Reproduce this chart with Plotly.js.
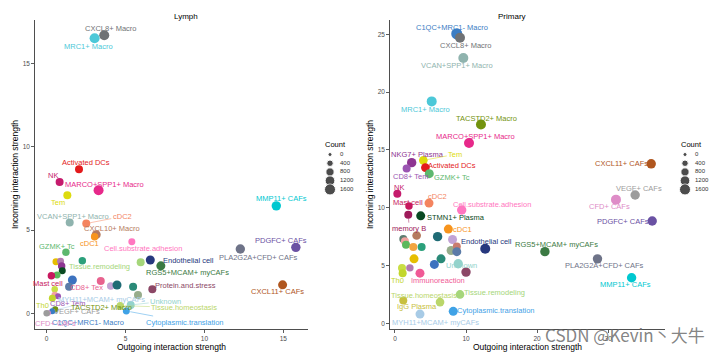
<!DOCTYPE html>
<html><head><meta charset="utf-8">
<script src="https://cdn.plot.ly/plotly-3.0.1.min.js"></script>
<style>html,body{margin:0;padding:0;background:#fff}#chart{width:721px;height:355px}</style>
</head><body><div id="chart"></div>
<script>
// ---------------- data ----------------
const lymphNames = ["CXCL8+ Macro","MRC1+ Macro","Activated DCs","NK","MARCO+SPP1+ Macro","Tem","VCAN+SPP1+ Macro","cDC2","CXCL10+ Macro","cDC1","Cell.substrate.adhesion","GZMK+ Tc","Treg","Tissue.remodeling","Endothelial cell","RGS5+MCAM+ myCAFs","PLA2G2A+CFD+ CAFs","PDGFC+ CAFs","MMP11+ CAFs","CXCL11+ CAFs","Tfh","CD4+ Tem","NKG7+ Plasma","STMN1+ Plasma","CD4+ Tn","Mast cell","B cell","Naive B","CD8+ Tex","pDC","Monocyte","Fibroblast","Protein.and.stress","Pericyte","Th17","Tn","CD8+ Tem","Th0","Unknown","Tissue.homeostasis","Cytoplasmic.translation","MYH11+MCAM+ myCAFs","TACSTD2+ Macro","C1QC+MRC1- Macro","CFD+ CAFs","VEGF+ CAFs"];
const lymphOut = [3.65,3.04,2.05,0.82,3.29,1.31,1.46,2.51,3.14,3.04,5.40,1.22,2.26,5.96,6.57,7.24,12.28,15.80,14.56,14.96,0.59,0.88,0.95,0.99,0.66,0.30,1.63,1.42,3.43,4.06,4.46,5.48,6.70,5.79,0.51,0.51,0.72,0.36,5.33,4.67,5.05,0.51,0.55,0.35,0.10,0.00];
const lymphIn  = [16.68,16.50,8.64,7.88,7.39,7.09,5.45,5.39,4.72,4.60,4.30,3.66,3.16,3.06,3.20,2.85,3.86,3.96,6.45,1.71,3.10,3.12,2.84,2.56,2.30,2.26,2.00,1.60,1.94,1.64,1.70,1.60,1.44,1.10,1.44,1.10,1.02,0.90,0.50,0.46,0.14,0.20,0.25,0.12,0.02,0.00];
const lymphCount = [1280,1280,731,731,1280,731,731,731,990,600,500,600,600,731,990,990,1100,1100,1100,990,500,500,600,500,500,600,990,731,731,600,990,731,731,731,400,400,300,500,731,600,500,600,250,300,200,400];

const primaryNames = ["C1QC+MRC1- Macro","CXCL8+ Macro","VCAN+SPP1+ Macro","MRC1+ Macro","TACSTD2+ Macro","MARCO+SPP1+ Macro","NKG7+ Plasma","Tem","CD8+ Tem","Activated DCs","GZMK+ Tc","NK","cDC2","Mast cell","memory B","Cell.substrate.adhesion","STMN1+ Plasma","cDC1","CXCL10+ Macro","Monocyte","pDC","Plasma cell","Tn","CD4+ Tn","Th1","Treg","Pericyte","Mono","Naive B","Endothelial cell","Tfh","Fibroblast","B cell","Unknown","Th17","CD4+ Tem","Th0","Immunoreaction","Protein.and.stress","Tissue.remodeling","IgG Plasma","Tissue.homeostasis","Cytoplasmic.translation","MYH11+MCAM+ myCAFs","RGS5+MCAM+ myCAFs","PLA2G2A+CFD+ CAFs","MMP11+ CAFs","PDGFC+ CAFs","CFD+ CAFs","VEGF+ CAFs","CXCL11+ CAFs"];
const primaryOut = [8.69,9.15,9.62,5.17,12.10,10.42,2.35,3.99,1.64,4.28,4.83,0.33,4.79,1.97,1.87,9.39,3.62,7.51,3.05,6.00,8.10,1.17,1.40,1.55,2.58,3.75,7.90,8.70,8.70,12.70,2.68,6.48,5.54,8.90,0.99,2.10,1.08,3.52,10.00,9.15,1.17,6.34,8.20,3.52,21.10,28.50,33.30,36.20,31.10,33.80,36.06];
const primaryIn  = [25.05,24.70,22.95,19.20,17.20,15.60,13.90,14.10,13.40,13.47,12.95,11.20,10.40,10.15,9.40,9.80,9.30,8.15,7.60,7.50,7.25,7.30,7.10,6.80,6.60,6.60,6.30,6.65,6.20,6.45,5.58,5.58,5.10,5.15,4.78,4.80,4.34,4.34,4.43,2.50,1.98,1.84,1.04,0.80,6.20,5.58,3.94,8.85,10.70,11.10,13.80];
const primaryCount = [1600,1280,1280,1280,1280,1280,1100,900,731,900,990,731,990,600,731,1100,990,990,900,1100,990,731,731,731,731,731,990,731,990,1280,990,990,990,1100,731,600,731,990,1100,900,731,900,990,990,1100,1100,1100,1100,1280,1100,1100];

const legendCounts = [0,400,800,1200,1600];

// ---------------- styles ----------------
const colors = {
 "CXCL8+ Macro":"#6F7275","MRC1+ Macro":"#4CC8D8","Activated DCs":"#E31A1C","NK":"#C51B6D","MARCO+SPP1+ Macro":"#E7298A",
 "Tem":"#DDDB0E","VCAN+SPP1+ Macro":"#8FB3AE","cDC2":"#F4845F","CXCL10+ Macro":"#B57A5E","cDC1":"#F7941D",
 "Cell.substrate.adhesion":"#FF77C0","GZMK+ Tc":"#5DB86E","Treg":"#2BA07B","Tissue.remodeling":"#A5D67A","Endothelial cell":"#27387E",
 "RGS5+MCAM+ myCAFs":"#3B7A43","PLA2G2A+CFD+ CAFs":"#6E7388","PDGFC+ CAFs":"#6A51A3","MMP11+ CAFs":"#00C8D0","CXCL11+ CAFs":"#B0561E",
 "Tfh":"#E6BE00","CD4+ Tem":"#B27AB0","NKG7+ Plasma":"#8E3592","STMN1+ Plasma":"#0A4A22","CD4+ Tn":"#5CB85C","Mast cell":"#C7185E",
 "B cell":"#3D72BF","Naive B":"#5B7BA8","CD8+ Tex":"#E8638F","pDC":"#C2A3D5","Monocyte":"#1F6B75","Fibroblast":"#2A8A78",
 "Protein.and.stress":"#8C4766","Pericyte":"#97AD8C","Th17":"#C9DE45","Tn":"#F2A3A0","CD8+ Tem":"#9B55B2","Th0":"#C2D62C",
 "Unknown":"#93D3CC","Tissue.homeostasis":"#BAD66A","Cytoplasmic.translation":"#3FA2E6","MYH11+MCAM+ myCAFs":"#A8CBE6",
 "TACSTD2+ Macro":"#72930E","C1QC+MRC1- Macro":"#3B7DC4","CFD+ CAFs":"#DE8CC7","VEGF+ CAFs":"#9C9C9C","memory B":"#9E1A5A",
 "Plasma cell":"#5E7D70","Th1":"#F2A541","Mono":"#C97B6E","Immunoreaction":"#F05A96","IgG Plasma":"#C8C040"
};
// label offsets in pixels [right, down]; third item = draw segment
const lymphLabels = {
 "CXCL8+ Macro":[6,-7],"MRC1+ Macro":[-6,8],"Activated DCs":[7,-7],"NK":[-7,-7],"MARCO+SPP1+ Macro":[6,-6],"Tem":[-9,7],
 "VCAN+SPP1+ Macro":[3,-6],"cDC2":[36,-7,true],"CXCL10+ Macro":[16,-6],"cDC1":[-5,7],"Cell.substrate.adhesion":[11,7],
 "GZMK+ Tc":[-9,-6],"Tissue.remodeling":[-41,4],"Endothelial cell":[38,0],"RGS5+MCAM+ myCAFs":[27,7],"PLA2G2A+CFD+ CAFs":[18,8],
 "PDGFC+ CAFs":[-15,-7],"MMP11+ CAFs":[5,-7],"CXCL11+ CAFs":[-5,7],"Protein.and.stress":[33,-4,true],"Unknown":[35,-4,true],
 "Tissue.homeostasis":[64,2,true],"Cytoplasmic.translation":[59,11,true],"C1QC+MRC1- Macro":[36,11],"CFD+ CAFs":[7,10],
 "VEGF+ CAFs":[30,-2],"TACSTD2+ Macro":[46,-2],"Mast cell":[-3,8],"CD8+ Tex":[-14,6],"CD8+ Tem":[10,7],
 "MYH11+MCAM+ myCAFs":[47,-11,true],"Th0":[-10,7]
};
const primaryLabels = {
 "C1QC+MRC1- Macro":[-5,-6],"CXCL8+ Macro":[6,8],"VCAN+SPP1+ Macro":[-6,7],"MRC1+ Macro":[-6,8],"TACSTD2+ Macro":[6,-6],
 "MARCO+SPP1+ Macro":[6,-7],"NKG7+ Plasma":[6,-8],"Tem":[32,-6,true],"Activated DCs":[27,-2],"CD8+ Tem":[4,8],"GZMK+ Tc":[23,4],
 "NK":[2,-6],"cDC2":[8,-7],"Mast cell":[-1,-4],"Cell.substrate.adhesion":[30,-6],"STMN1+ Plasma":[35,2,true],"memory B":[1,14,true],
 "cDC1":[14,0],"Endothelial cell":[1,-7],"RGS5+MCAM+ myCAFs":[12,-7],"Unknown":[3,2],"Th0":[-5,7],"Immunoreaction":[18,7],
 "Tissue.remodeling":[35,-2],"Tissue.homeostasis":[-16,-7],"IgG Plasma":[14,6],"Cytoplasmic.translation":[43,-1],
 "MYH11+MCAM+ myCAFs":[16,8],"CXCL11+ CAFs":[-30,0],"VEGF+ CAFs":[4,-7],"CFD+ CAFs":[-6,7],"PDGFC+ CAFs":[-29,0],
 "PLA2G2A+CFD+ CAFs":[7,7],"MMP11+ CAFs":[-6,7]
};

const FONT = "Liberation Sans, Arial, sans-serif";
const sizeOf = c => Math.sqrt(16 + 105 * c / 1600);

function pointTrace(names, xs, ys, counts, xa, ya) {
  return {type:"scatter", mode:"markers", x:xs, y:ys, xaxis:xa, yaxis:ya, text:names, hoverinfo:"text",
    marker:{size:counts.map(sizeOf), color:names.map(n=>colors[n]), line:{width:0}, opacity:1}, showlegend:false, cliponaxis:false};
}
function labelAnns(names, xs, ys, offs, xa, ya) {
  const out = [];
  names.forEach((n,i)=>{
    const o = offs[n]; if(!o) return;
    out.push({x:xs[i], y:ys[i], xref:xa, yref:ya, text:n, showarrow:true, ax:o[0], ay:o[1],
      arrowhead:0, arrowwidth:0.5, arrowcolor:o[2]?colors[n]:"rgba(0,0,0,0)", standoff:4,
      font:{family:FONT, size:7.5, color:colors[n]}});
  });
  return out;
}

const traces = [
  pointTrace(lymphNames, lymphOut, lymphIn, lymphCount, "x", "y"),
  pointTrace(primaryNames, primaryOut, primaryIn, primaryCount, "x2", "y2")
];
const legIdx = legendCounts.map((c,i)=>i);
[["x3","y3"],["x4","y4"]].forEach(([xa,ya])=>{
  traces.push({type:"scatter", mode:"markers", x:legendCounts.map(()=>15), y:legIdx, xaxis:xa, yaxis:ya,
    marker:{size:legendCounts.map(sizeOf), color:"#000"}, showlegend:false, hoverinfo:"skip"});
  traces.push({type:"scatter", mode:"text", x:legendCounts.map(()=>25), y:legIdx, xaxis:xa, yaxis:ya,
    text:legendCounts.map(String), textposition:"middle right", textfont:{family:FONT,size:6,color:"#333"},
    showlegend:false, hoverinfo:"skip"});
});

const axCommon = {showgrid:false, zeroline:false, showline:true, linecolor:"#222", linewidth:0.8,
  ticks:"outside", ticklen:3, tickwidth:0.8, tickcolor:"#333", tickfont:{family:FONT,size:6.5,color:"#4d4d4d"}, fixedrange:true};
const xTitle = {text:"Outgoing interaction strength", font:{family:FONT,size:8.5,color:"#000"}, standoff:3};
const yTitle = {text:"Incoming interaction strength", font:{family:FONT,size:8.5,color:"#000"}, standoff:2};
const ydom = [1-329/355, 1-20/355];
const hidden = {visible:false, fixedrange:true};

const layout = {
  width:721, height:355, margin:{l:0,r:0,t:0,b:0}, paper_bgcolor:"#fff", plot_bgcolor:"rgba(0,0,0,0)",
  font:{family:FONT}, showlegend:false,
  xaxis:Object.assign({}, axCommon, {domain:[35/721,308/721], range:[-0.74,16.57], tickvals:[0,5,10,15], title:xTitle, anchor:"y"}),
  yaxis:Object.assign({}, axCommon, {domain:ydom, range:[-0.94,17.6], tickvals:[0,5,10,15], title:yTitle, anchor:"x"}),
  xaxis2:Object.assign({}, axCommon, {domain:[390/721,665/721], range:[-0.7,38], tickvals:[0,10,20,30], title:xTitle, anchor:"y2"}),
  yaxis2:Object.assign({}, axCommon, {domain:ydom, range:[-0.49,26.24], tickvals:[0,5,10,15,20,25], title:yTitle, anchor:"x2"}),
  xaxis3:Object.assign({}, hidden, {domain:[315/721,365/721], range:[0,50], anchor:"y3"}),
  yaxis3:Object.assign({}, hidden, {domain:[1-195/355,1-140.5/355], range:[4.63,-1.6], anchor:"x3"}),
  xaxis4:Object.assign({}, hidden, {domain:[670/721,720/721], range:[0,50], anchor:"y4"}),
  yaxis4:Object.assign({}, hidden, {domain:[1-195/355,1-140.5/355], range:[4.63,-1.6], anchor:"x4"}),
  annotations: [].concat(
    labelAnns(lymphNames, lymphOut, lymphIn, lymphLabels, "x", "y"),
    labelAnns(primaryNames, primaryOut, primaryIn, primaryLabels, "x2", "y2"),
    [
      {text:"Lymph", xref:"paper", yref:"paper", x:171.5/721, y:1-10/355, showarrow:false, font:{family:FONT,size:8,color:"#000"}},
      {text:"Primary", xref:"paper", yref:"paper", x:527.5/721, y:1-10/355, showarrow:false, font:{family:FONT,size:8,color:"#000"}},
      {text:"Count", xref:"x3", yref:"y3", x:8, y:-1.18, xanchor:"left", showarrow:false, font:{family:FONT,size:7.5,color:"#000"}},
      {text:"Count", xref:"x4", yref:"y4", x:9, y:-1.18, xanchor:"left", showarrow:false, font:{family:FONT,size:7.5,color:"#000"}},
      {text:"CSDN @Kevin丶大牛", xref:"paper", yref:"paper", x:707/721, y:1-334/355, xanchor:"right", yanchor:"middle",
       showarrow:false, font:{family:"Noto Sans CJK SC, sans-serif", size:17, color:"rgba(100,100,100,0.8)"}}
    ])
};
Plotly.newPlot("chart", traces, layout, {staticPlot:true, displayModeBar:false});
</script></body></html>
